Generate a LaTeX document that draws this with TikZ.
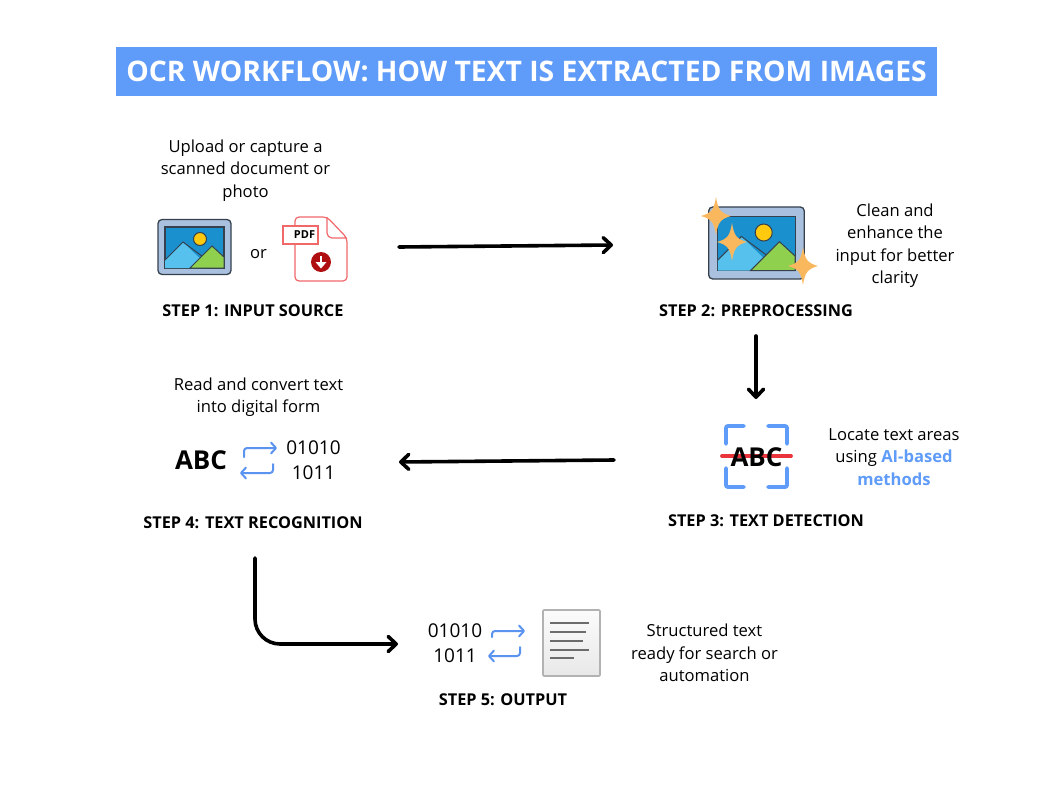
\documentclass[tikz,border=0pt]{standalone}
\usepackage{fontspec}
\setmainfont{Open Sans}
\usetikzlibrary{arrows.meta}
\definecolor{titleblue}{HTML}{5F9BF8}
\definecolor{swapblue}{HTML}{5B93F0}
\definecolor{framegrey}{HTML}{36414D}
\definecolor{frameblue}{HTML}{A9C1DF}
\definecolor{skyblue}{HTML}{1B90CF}
\definecolor{hillblue}{HTML}{55C1EC}
\definecolor{hillgreen}{HTML}{8FD14F}
\definecolor{sunyellow}{HTML}{FFC90E}
\definecolor{pdfred}{HTML}{F0686A}
\definecolor{pdfdark}{HTML}{B00F12}
\definecolor{sparkle}{HTML}{F9B85E}
\definecolor{scanred}{HTML}{E8343A}
\tikzset{
  bodytext/.style={align=center, font=\fontsize{16.6}{22.5}\selectfont},
  steplabel/.style={font=\fontsize{16.3}{20}\selectfont\bfseries},
  bincode/.style={align=center, font=\fontsize{19}{25}\selectfont},
  flow/.style={-{Straight Barb[length=8pt,width=15pt,line width=3.6pt,round]}, line width=3.6pt, line cap=round},
  swap/.style={-{Straight Barb[length=5pt,width=11pt,line width=2pt,round]}, swapblue, line width=2pt, rounded corners=3pt, line cap=round},
  corner/.style={titleblue, line width=3.8pt, rounded corners=2pt, line cap=round},
  pics/photo/.style={code={
    \draw[framegrey, line width=1.3pt, fill=frameblue, rounded corners=4pt] (-36.5,-27.5) rectangle (36.5,27.5);
    \draw[framegrey, line width=1.2pt, fill=skyblue] (-29.5,-20) rectangle (29.5,21);
    \fill[hillblue] (-29.5,13) -- (-11.5,-5) -- (13,19) -- (11,21) -- (-29.5,21) -- cycle;
    \draw[framegrey, line width=1pt] (-29.5,13) -- (-11.5,-5) -- (10,11);
    \draw[framegrey, line width=1pt, fill=hillgreen] (-4.5,21) -- (17.5,-1) -- (29.5,10) -- (29.5,21) -- cycle;
    \draw[framegrey, line width=1pt, fill=sunyellow] (5.5,-8) circle (6.5);
  }},
  pics/star/.style={code={
    \fill[sparkle] (0,-19) .. controls (2,-7) and (4,-3) .. (15,0) .. controls (4,3) and (2,7) .. (0,19)
      .. controls (-2,7) and (-4,3) .. (-15,0) .. controls (-4,-3) and (-2,-7) .. (0,-19) -- cycle;
  }}
}
\begin{document}
\begin{tikzpicture}[x=1pt, y=-1pt]
  \useasboundingbox (0,0) rectangle (1053,790);
  % title
  \node[fill=titleblue, text=white, minimum width=821pt, minimum height=49pt, inner sep=0pt, font=\fontsize{28.3}{32}\selectfont\bfseries] (title) at (526.5,71.5) {OCR WORKFLOW: HOW TEXT IS EXTRACTED FROM IMAGES};

  % step 1
  \node[bodytext] (inputtext) at (245.5,170.5) {Upload or capture a\\scanned document or\\photo};
  \pic at (194.5,247) {photo};
  \node[bodytext] (ortext) at (258.5,254) {or};
  \draw[pdfred, line width=1.2pt, rounded corners=4pt, fill=white] (295,226) -- (295,217) -- (327,217) -- (347,238) -- (347,281) -- (295,281) -- (295,244);
  \draw[pdfred, line width=1.2pt, rounded corners=5pt] (327,217) -- (327,238) -- (347,238);
  \node[draw=pdfred, line width=1.2pt, fill=white, minimum width=35pt, minimum height=18pt, inner sep=0pt, font=\fontsize{11}{11}\selectfont\bfseries] (pdftag) at (300.5,235) {\hspace{8pt}PDF};
  \node[circle, fill=pdfdark, minimum size=20pt, inner sep=0pt] (pdfdot) at (321,262) {};
  \draw[white, line width=2.4pt] (321,256) -- (321,263);
  \fill[white] (315.5,262) -- (326.5,262) -- (321,268.5) -- cycle;
  \node[steplabel] (step1) at (253,311) {STEP 1: INPUT SOURCE};

  % step 2
  \pic at (756.5,243) [scale=1.31] {photo};
  \pic at (716,216) {star};
  \pic at (732,242) {star};
  \pic at (803,266) {star};
  \node[bodytext] (cleantext) at (895,245.5) {Clean and\\enhance the\\input for better\\clarity};
  \node[steplabel] (step2) at (756,311) {STEP 2: PREPROCESSING};

  % step 3
  \draw[corner] (726,444) -- (726,426) -- (744,426);
  \draw[corner] (768,426) -- (787,426) -- (787,444);
  \draw[corner] (726,468) -- (726,487) -- (744,487);
  \draw[corner] (768,487) -- (787,487) -- (787,468);
  \draw[scanred, line width=3.8pt, line cap=round] (722,456) -- (791,456);
  \node[font=\fontsize{26}{26}\selectfont\bfseries] (abcscan) at (756.5,457) {ABC};
  \node[bodytext] (locatetext) at (894,457) {Locate text areas\\using {\bfseries\color{titleblue}AI-based}\\{\bfseries\color{titleblue}methods}};
  \node[steplabel] (step3) at (766,521) {STEP 3: TEXT DETECTION};

  % step 4
  \node[bodytext] (readtext) at (258.5,397) {Read and convert text\\into digital form};
  \node[font=\fontsize{26}{26}\selectfont\bfseries] (abcplain) at (201,460) {ABC};
  \draw[swap] (244,457) -- (244,448) -- (277,448);
  \draw[swap] (273,464) -- (273,473) -- (240,473);
  \node[bincode] (binleft) at (313.5,460) {01010\\1011};
  \node[steplabel] (step4) at (253,523) {STEP 4: TEXT RECOGNITION};

  % step 5
  \node[bincode] (binright) at (455,643.5) {01010\\1011};
  \draw[swap] (492,637) -- (492,631) -- (525,631);
  \draw[swap] (520,647) -- (520,656) -- (488,656);
  \draw[gray!60, line width=1.6pt, top color=gray!3, bottom color=gray!18, rounded corners=1pt] (543,610) rectangle (600,676);
  \foreach \ypos/\xend in {623/589, 632/586, 641/583, 650/589, 658/574}
    \draw[gray!85!black, line width=1.6pt] (550,\ypos) -- (\xend,\ypos);
  \node[bodytext] (outputtext) at (704.5,653) {Structured text\\ready for search or\\automation};
  \node[steplabel] (step5) at (503,700) {STEP 5: OUTPUT};

  % flow arrows
  \coordinate (a1) at (399,247);
  \coordinate (b1) at (613,245);
  \coordinate (a2) at (756,336);
  \coordinate (b2) at (756,399);
  \coordinate (a3) at (614,460);
  \coordinate (b3) at (399,462);
  \coordinate (a4) at (255,558);
  \coordinate (b4) at (398,644);
  \draw[flow] (a1) -- (b1);
  \draw[flow] (a2) -- (b2);
  \draw[flow] (a3) -- (b3);
  \draw[flow, rounded corners=25pt] (a4) |- (b4);
\end{tikzpicture}
\end{document}
